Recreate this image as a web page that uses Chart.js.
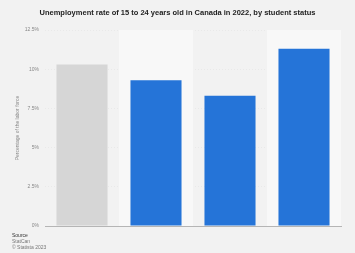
<!DOCTYPE html>
<html>
<head>
<meta charset="utf-8">
<script src="https://cdn.jsdelivr.net/npm/chart.js@4"></script>
<style>
  html, body { margin: 0; padding: 0; background: #f2f2f2; }
  #caja { position: relative; width: 355px; height: 253px; font-family: "Liberation Sans", Arial, sans-serif; }
  #titulo { position: absolute; left: 0; top: 8px; width: 355px; text-align: center; font-size: 7.5px; font-weight: bold; color: #222; }
  #fuente { position: absolute; left: 12px; top: 232px; font-size: 5px; line-height: 6px; color: #777; }
  #fuente b { color: #333; font-weight: normal; }
  canvas { position: absolute; left: 0; top: 0; }
</style>
</head>
<body>
<div id="caja">
  <canvas id="grafico" width="355" height="253"></canvas>
  <div id="titulo">Unemployment rate of 15 to 24 years old in Canada in 2022, by student status</div>
  <div id="fuente"><b>Source</b><br>StatCan<br>© Statista 2023</div>
</div>
<script>
// datos
const categorias = ['Total', 'Full-time students', 'Part-time students', 'Non-students'];
const valores = [10.3, 9.3, 8.3, 11.3];
const coloresBarras = ['#d6d6d6', '#2574d8', '#2574d8', '#2574d8'];
const ticksY = [0, 2.5, 5, 7.5, 10, 12.5];

// franjas claras detras de las columnas pares
const franjas = {
  id: 'franjas',
  beforeDatasetsDraw(chart) {
    const ctx = chart.ctx, x = chart.scales.x, area = chart.chartArea;
    const ancho = (area.right - area.left) / categorias.length;
    ctx.save();
    ctx.fillStyle = '#f8f8f8';
    categorias.forEach((c, i) => {
      if (i % 2 === 1) {
        const cx = x.getPixelForValue(i);
        ctx.fillRect(cx - ancho / 2, area.top, ancho, area.bottom - area.top);
      }
    });
    ctx.restore();
  }
};

new Chart(document.getElementById('grafico'), {
  type: 'bar',
  data: {
    labels: categorias,
    datasets: [{
      data: valores,
      backgroundColor: coloresBarras,
      categoryPercentage: 1,
      barPercentage: 0.69
    }]
  },
  options: {
    responsive: false,
    animation: false,
    layout: { padding: { top: 30, right: 14, bottom: 19, left: 0 } },
    plugins: { legend: { display: false }, tooltip: { enabled: false } },
    scales: {
      x: {
        ticks: { display: false },
        grid: { display: false },
        border: { color: '#b5b5b5', width: 1 }
      },
      y: {
        min: 0, max: 12.5,
        afterBuildTicks(axis) { axis.ticks = ticksY.map(v => ({ value: v })); },
        afterFit(axis) { axis.width = 45; },
        ticks: {
          padding: 6,
          color: '#888',
          font: { size: 5, family: 'Liberation Sans' },
          callback: v => v + '%'
        },
        grid: { color: '#e9e9e9', drawTicks: false },
        border: { display: false, dash: [1, 2] },
        title: {
          display: true,
          text: 'Percentage of the labor force',
          color: '#888',
          font: { size: 5, family: 'Liberation Sans' },
          padding: { top: 15, bottom: 0 }
        }
      }
    }
  },
  plugins: [franjas]
});
</script>
</body>
</html>
